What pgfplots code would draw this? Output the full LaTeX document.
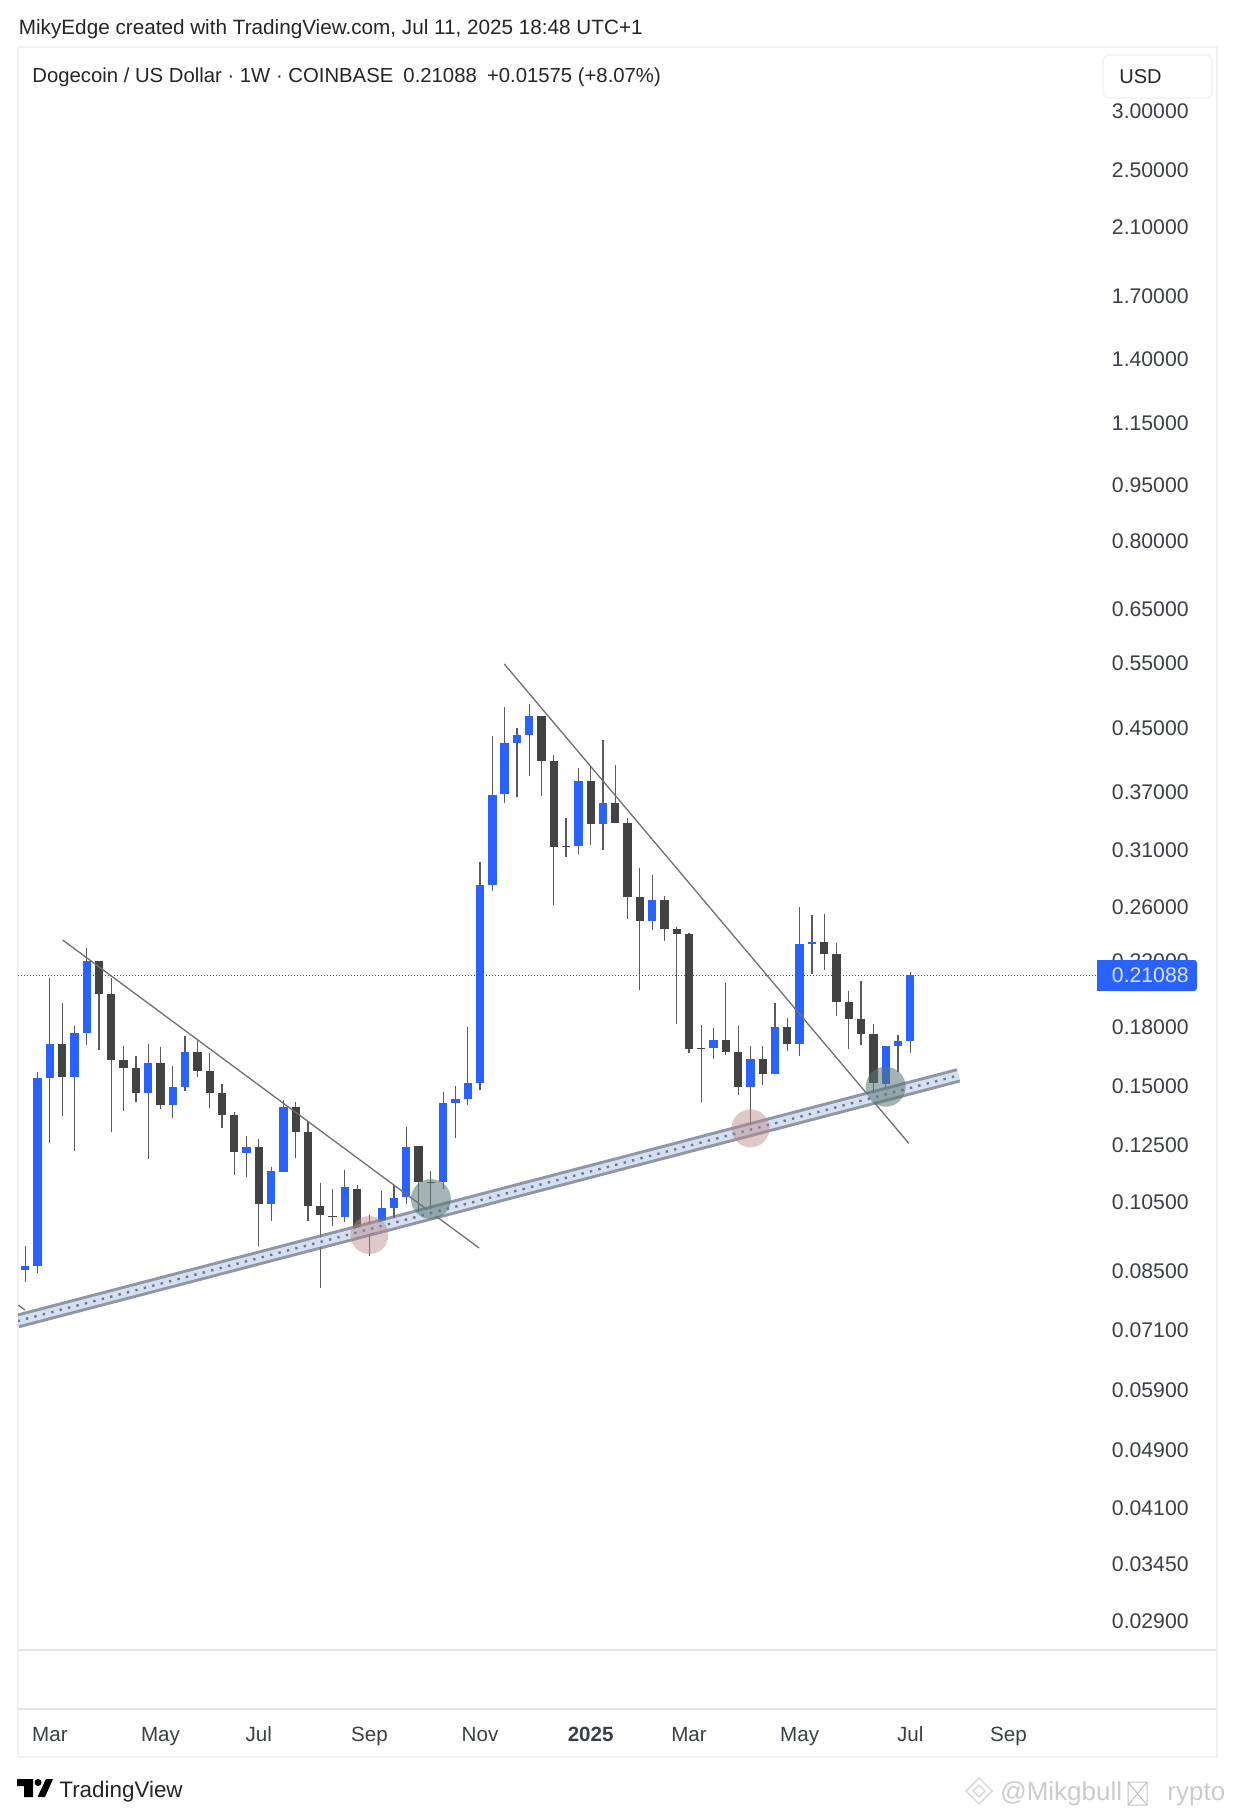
\documentclass[border=0pt]{standalone}
\usepackage{pgfplots}
\pgfplotsset{compat=1.18}
\usepackage{fontspec}
\setmainfont{Liberation Sans}
\definecolor{tvblue}{HTML}{2962FF}
\definecolor{tvbody}{HTML}{434343}
\definecolor{tvwick}{HTML}{5A5A5A}
\definecolor{tvtext}{HTML}{3C3F48}
\definecolor{tvtitle}{HTML}{23252B}
\definecolor{tvborder}{HTML}{F0F1F3}
\definecolor{tvrule}{HTML}{E3E5E9}
\definecolor{trend}{HTML}{776C72}
\definecolor{bandedge}{HTML}{6B7485}
\definecolor{bandfill}{HTML}{DDE7FB}
\definecolor{banddot}{HTML}{5E6677}
\definecolor{touchpink}{HTML}{B98686}
\definecolor{touchteal}{HTML}{5A7676}
\definecolor{tagtext}{HTML}{D6E2FF}
\newcommand{\candle}[6]{%
  \addplot[draw=tvwick,line width=0.6pt,forget plot] coordinates {(#2,#5)(#2,#4)};
  \addplot[draw=#1,line width=4.15pt,line cap=butt,forget plot] coordinates {(#2,#3)(#2,#6)};
}
\newcommand{\up}[5]{\candle{tvblue}{#1}{#2}{#3}{#4}{#5}}
\newcommand{\dn}[5]{\candle{tvbody}{#1}{#2}{#3}{#4}{#5}}
\begin{document}
\begin{tikzpicture}
\fill[white] (0,0) rectangle (618pt,-909.5pt);
\begin{axis}[
  at={(9pt,-825pt)},anchor=south west,scale only axis,
  width=599.5pt,height=801.5pt,
  ymode=log,xmin=-0.594,xmax=96.96,ymin=0.026514,ymax=3.6493,
  axis line style={draw=tvborder,line width=0.6pt},
  tick style={draw=none},
  ytick pos=right,
  ytick={0.029,0.0345,0.041,0.049,0.059,0.071,0.085,0.105,0.125,0.15,0.18,0.22,0.26,0.31,0.37,0.45,0.55,0.65,0.8,0.95,1.15,1.4,1.7,2.1,2.5,3.0},
  yticklabels={0.02900,0.03450,0.04100,0.04900,0.05900,0.07100,0.08500,0.10500,0.12500,0.15000,0.18000,0.22000,0.26000,0.31000,0.37000,0.45000,0.55000,0.65000,0.80000,0.95000,1.15000,1.40000,1.70000,2.10000,2.50000,3.00000},
  yticklabel style={anchor=east,inner sep=0pt,xshift=-14pt,yshift=-0.15pt,font=\fontsize{10.6pt}{12pt}\selectfont,text=tvtext},
  xtick={2,11,19,28,37,46,54,63,72,80},
  xticklabels={Mar,May,Jul,Sep,Nov,\textbf{2025},Mar,May,Jul,Sep},
  xticklabel style={anchor=base,inner sep=0pt,yshift=-45.5pt,font=\fontsize{10.3pt}{12pt}\selectfont,text=tvtext},
  clip=true,
]
% price line
\addplot[draw=tvbody,line width=0.5pt,dash pattern=on 0.5pt off 1pt,forget plot] coordinates {(-0.594,0.21088)(87.2,0.21088)};
% candles: index, open, high, low, close
\up{0}{.08511}{.09172}{.08218}{.08617}
\up{1}{.08617}{.15666}{.08449}{.15352}
\up{2}{.15352}{.20875}{.12586}{.17044}
\dn{3}{.17044}{.19331}{.13674}{.15399}
\up{4}{.15399}{.18029}{.1229}{.17629}
\up{5}{.17629}{.2289}{.17007}{.21993}
\dn{6}{.21993}{.21993}{.16748}{.19874}
\dn{7}{.19874}{.20875}{.13029}{.16224}
\dn{8}{.16224}{.16955}{.13897}{.15832}
\dn{9}{.15832}{.16426}{.14287}{.14661}
\up{10}{.14661}{.17044}{.11992}{.16076}
\dn{11}{.16076}{.16902}{.13984}{.14131}
\up{12}{.14131}{.15929}{.1359}{.14934}
\up{13}{.14934}{.17484}{.14751}{.16629}
\dn{14}{.16629}{.17306}{.15399}{.15685}
\dn{15}{.15685}{.16578}{.14001}{.14661}
\dn{16}{.14661}{.15086}{.13179}{.13703}
\dn{17}{.13703}{.1383}{.11407}{.12231}
\up{18}{.12193}{.12847}{.11348}{.12421}
\dn{19}{.12421}{.12729}{.0918}{.10425}
\up{20}{.10425}{.1168}{.09912}{.11537}
\up{21}{.11522}{.14348}{.11522}{.14044}
\dn{22}{.14044}{.14261}{.12029}{.13006}
\dn{23}{.13006}{.13477}{.09912}{.10361}
\dn{24}{.10361}{.1112}{.08068}{.10079}
\dn{25}{.10048}{.10916}{.09762}{.10017}
\up{26}{.10017}{.11572}{.09882}{.10984}
\dn{27}{.10937}{.11062}{.09391}{.09507}
\up{28}{.09507}{.10079}{.08903}{.09634}
\up{29}{.09634}{.10861}{.09583}{.10298}
\up{30}{.10298}{.11062}{.09882}{.1062}
\up{31}{.10652}{.13207}{.10435}{.12421}
\dn{32}{.12459}{.12459}{.1014}{.11154}
\dn{33}{.11174}{.11548}{.10036}{.11154}
\up{34}{.11154}{.14732}{.10937}{.14218}
\up{35}{.14218}{.1498}{.12781}{.14392}
\up{36}{.14392}{.17974}{.14131}{.15118}
\up{37}{.15118}{.29841}{.14811}{.27779}
\up{38}{.27779}{.43909}{.27298}{.36629}
\up{39}{.36742}{.48}{.35805}{.42974}
\up{40}{.42974}{.45}{.36438}{.44044}
\up{41}{.44044}{.48445}{.38902}{.46692}
\dn{42}{.46692}{.46692}{.3655}{.4066}
\dn{43}{.4066}{.41419}{.26148}{.3122}
\dn{44}{.31317}{.34162}{.30331}{.3122}
\up{45}{.31317}{.39797}{.30612}{.38237}
\dn{46}{.38237}{.39919}{.31442}{.33506}
\up{47}{.33506}{.43368}{.30988}{.35738}
\dn{48}{.35738}{.40203}{.33608}{.33608}
\dn{49}{.33608}{.3413}{.2507}{.26773}
\dn{50}{.26773}{.29269}{.20155}{.2487}
\up{51}{.2487}{.28647}{.2419}{.26526}
\dn{52}{.26526}{.26856}{.23411}{.24265}
\dn{53}{.24265}{.24416}{.18157}{.23897}
\dn{54}{.23897}{.24015}{.16578}{.16782}
\dn{55}{.1685}{.18085}{.14275}{.16814}
\up{56}{.16835}{.17902}{.16305}{.17253}
\dn{57}{.17253}{.20576}{.16477}{.16629}
\dn{58}{.16629}{.18046}{.14598}{.14934}
\up{59}{.14934}{.16955}{.12966}{.16274}
\dn{60}{.16274}{.16955}{.15054}{.15542}
\up{61}{.15542}{.19331}{.15542}{.17957}
\dn{62}{.17957}{.18478}{.16697}{.17044}
\up{63}{.17044}{.25963}{.16457}{.23174}
\up{64}{.23174}{.25357}{.21133}{.23316}
\dn{65}{.23316}{.25435}{.21415}{.22472}
\dn{66}{.22472}{.23244}{.18609}{.19391}
\dn{67}{.19391}{.20056}{.16798}{.18403}
\dn{68}{.18403}{.20683}{.17023}{.17576}
\dn{69}{.17576}{.18124}{.14287}{.15118}
\up{70}{.151}{.16939}{.14888}{.16939}
\up{71}{.16939}{.17538}{.15666}{.172}
\up{72}{.172}{.21263}{.16609}{.21088}
% trend lines
\addplot[draw=trend,line width=0.65pt,forget plot] coordinates {(3.04,0.23483)(36.92,0.09116)};
\addplot[draw=trend,line width=0.65pt,forget plot] coordinates {(38.97,0.5483)(71.88,0.12574)};
\addplot[draw=trend,line width=0.65pt,forget plot] coordinates {(-0.57,0.07651)(-0.02,0.07535)};
% ascending channel
\addplot[draw=bandedge,line width=7.3pt,line cap=butt,opacity=0.75,forget plot] coordinates {(-0.635,0.07284)(75.92,0.15495)};
\addplot[draw=bandfill,line width=4.3pt,line cap=butt,opacity=0.9,forget plot] coordinates {(-0.635,0.07284)(75.92,0.15495)};
\addplot[draw=banddot,line width=1.2pt,line cap=butt,dash pattern=on 1.2pt off 3.15pt,opacity=0.85,forget plot] coordinates {(-0.635,0.07284)(75.92,0.15495)};
% touch circles
\addplot[only marks,mark=*,mark size=9.5pt,mark options={line width=0pt,draw opacity=0,fill=touchpink,fill opacity=0.45},forget plot] coordinates {(28,0.09487)(59,0.13167)};
\addplot[only marks,mark=*,mark size=10pt,mark options={line width=0pt,draw opacity=0,fill=touchteal,fill opacity=0.55},forget plot] coordinates {(33,0.10597)(70,0.14962)};
\end{axis}
\begin{scope}[x=0.5pt,y=-0.5pt]
% panes
\draw[tvborder,line width=0.6pt] (18,1650) -- (18,1757) -- (1217,1757) -- (1217,1650);
\draw[tvrule,line width=0.6pt] (18,1650) -- (1217,1650);
\draw[tvrule,line width=0.6pt] (18,1709) -- (1217,1709);
% USD button
\draw[tvborder,fill=white,line width=0.6pt,rounded corners=3pt] (1103,55) rectangle (1212,98);
\node[anchor=base west,inner sep=0pt,text=tvtitle,font=\fontsize{10pt}{12pt}\selectfont] at (1119,84) {USD};
% price tag
\fill[tvblue,rounded corners=1.5pt] (1105,960) rectangle (1197,991);
\fill[tvblue] (1097,960) rectangle (1110,991);
\node[anchor=east,inner sep=0pt,text=tagtext,font=\fontsize{10.6pt}{12pt}\selectfont] at (1189,975.5) {0.21088};
% headers
\node[anchor=base west,inner sep=0pt,text=tvtitle,font=\fontsize{10.35pt}{12pt}\selectfont] at (18.5,35) {MikyEdge created with TradingView.com, Jul 11, 2025 18:48 UTC+1};
\node[anchor=base west,inner sep=0pt,text=tvtitle,font=\fontsize{10.15pt}{12pt}\selectfont] at (32,82.7) {Dogecoin / US Dollar · 1W · COINBASE\hspace{0.5em}0.21088\hspace{0.5em}+0.01575 (+8.07\%)};
% logo
\fill[black] (17,1779) -- (33,1779) -- (33,1797) -- (24,1797) -- (24,1786) -- (17,1786) -- cycle;
\fill[black] (38,1782.5) circle[radius=3.5];
\fill[black] (46,1779) -- (53,1779) -- (45,1797) -- (37.5,1797) -- cycle;
\node[anchor=base west,inner sep=0pt,text=tvtitle,font=\fontsize{11.2pt}{12pt}\selectfont] at (59,1797) {TradingView};
% watermark
\node[anchor=base west,inner sep=0pt,text=black!20,font=\fontsize{13pt}{14pt}\selectfont] at (1000,1800) {@Mikgbull};
\node[anchor=base west,inner sep=0pt,text=black!20,font=\fontsize{13pt}{14pt}\selectfont] at (1167,1800) {rypto};
\draw[black!24,line width=0.5pt] (1128,1782) rectangle (1147,1805) (1128,1782) -- (1147,1805) (1147,1782) -- (1128,1805);
\draw[black!16,line width=0.7pt] (979,1778) -- (992,1791) -- (979,1804) -- (966,1791) -- cycle;
\draw[black!16,line width=0.7pt] (979,1785) -- (985,1791) -- (979,1797) -- (973,1791) -- cycle;
\end{scope}
\end{tikzpicture}
\end{document}
